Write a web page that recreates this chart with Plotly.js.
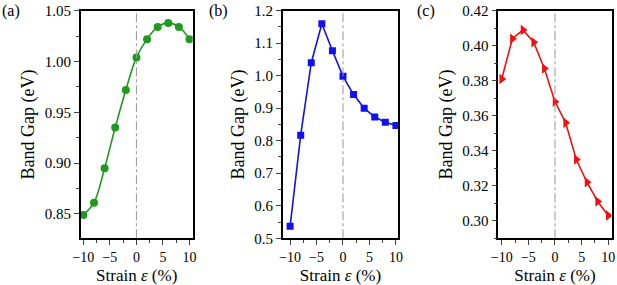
<!DOCTYPE html>
<html><head><meta charset="utf-8">
<script src="https://cdn.plot.ly/plotly-3.0.1.min.js"></script>
<style>html,body{margin:0;padding:0;background:#fff}#chart{width:617px;height:285px}</style>
</head><body><div id="chart"></div>
<script>
var strain = [-10, -8, -6, -4, -2, 0, 2, 4, 6, 8, 10];
var gapA = [0.849, 0.861, 0.895, 0.935, 0.972, 1.004, 1.022, 1.034, 1.038, 1.034, 1.022];
var gapB = [0.537, 0.817, 1.040, 1.160, 1.077, 0.998, 0.942, 0.900, 0.873, 0.857, 0.847];
var gapC = [0.381, 0.404, 0.409, 0.402, 0.387, 0.368, 0.356, 0.335, 0.322, 0.311, 0.303];
var panelLabels = ['(a)', '(b)', '(c)'];
var yTitle = 'Band Gap (eV)';
var xTitle = 'Strain <i>ε</i> (%)';

var FONT = 'Liberation Serif, serif';
var traces = [
  {x: strain, y: gapA, xaxis: 'x', yaxis: 'y', mode: 'lines+markers',
   line: {color: '#1e9a1e', width: 1.6, shape: 'spline'},
   marker: {symbol: 'circle', size: 8, color: '#1e9a1e'}},
  {x: strain, y: gapB, xaxis: 'x2', yaxis: 'y2', mode: 'lines+markers',
   line: {color: '#1010f0', width: 1.6},
   marker: {symbol: 'square', size: 7, color: '#1010f0'}},
  {x: strain, y: gapC, xaxis: 'x3', yaxis: 'y3', mode: 'lines+markers',
   line: {color: '#f01010', width: 1.6},
   marker: {symbol: 'triangle-right', size: 9, color: '#f01010'}}
];

function xax(dom, rng) {
  return {domain: dom, range: rng, tickmode: 'array', tickvals: [-10, -5, 0, 5, 10],
    ticks: 'outside', ticklen: 5, tickwidth: 1.3, showline: true, linewidth: 1.5, linecolor: '#000',
    mirror: true, showgrid: false, zeroline: false,
    minor: {dtick: 2.5, tick0: 0, ticks: 'outside', ticklen: 3, tickwidth: 1, showgrid: false},
    tickfont: {family: FONT, size: 14, color: '#000'},
    title: {text: xTitle, font: {family: FONT, size: 17, color: '#000'}, standoff: 6}};
}
function yax(anchor, rng, vals, minorD, fmt) {
  return {domain: [0.164, 0.9625], range: rng, anchor: anchor, tickmode: 'array', tickvals: vals,
    tickformat: fmt,
    ticks: 'outside', ticklen: 5, tickwidth: 1.3, showline: true, linewidth: 1.5, linecolor: '#000',
    mirror: true, showgrid: false, zeroline: false,
    minor: {dtick: minorD, tick0: 0, ticks: 'outside', ticklen: 3, tickwidth: 1, showgrid: false},
    tickfont: {family: FONT, size: 15, color: '#000'},
    title: {text: yTitle, font: {family: FONT, size: 18, color: '#000'}, standoff: 5}};
}

var layout = {
  width: 617, height: 285, margin: {l: 0, r: 0, t: 0, b: 0},
  font: {family: FONT, color: '#000', size: 15},
  paper_bgcolor: '#fff', plot_bgcolor: '#fff', showlegend: false,
  xaxis: Object.assign(xax([0.1308, 0.3123], [-10.5, 10.6]), {anchor: 'y'}),
  yaxis: yax('x', [0.826, 1.05], [0.85, 0.90, 0.95, 1.00, 1.05], 0.025, '.2f'),
  xaxis2: Object.assign(xax([0.4582, 0.6455], [-11.4, 10.45]), {anchor: 'y2'}),
  yaxis2: yax('x2', [0.5, 1.2], [0.5, 0.6, 0.7, 0.8, 0.9, 1.0, 1.1, 1.2], 0.05, '.1f'),
  xaxis3: Object.assign(xax([0.8076, 0.9914], [-10.64, 10.64]), {anchor: 'y3'}),
  yaxis3: yax('x3', [0.290, 0.42], [0.30, 0.32, 0.34, 0.36, 0.38, 0.40, 0.42], 0.01, '.2f'),
  shapes: [
    {type: 'line', xref: 'x', yref: 'y domain', x0: 0, x1: 0, y0: 0, y1: 1, line: {color: '#999', width: 1, dash: 'dashdot'}},
    {type: 'line', xref: 'x2', yref: 'y2 domain', x0: 0, x1: 0, y0: 0, y1: 1, line: {color: '#999', width: 1, dash: 'dashdot'}},
    {type: 'line', xref: 'x3', yref: 'y3 domain', x0: 0, x1: 0, y0: 0, y1: 1, line: {color: '#999', width: 1, dash: 'dashdot'}}
  ],
  annotations: [
    {text: panelLabels[0], xref: 'paper', yref: 'paper', x: 0.0, y: 1.0, xanchor: 'left', yanchor: 'top', showarrow: false, font: {family: FONT, size: 16, color: '#000'}},
    {text: panelLabels[1], xref: 'paper', yref: 'paper', x: 0.3355, y: 1.0, xanchor: 'left', yanchor: 'top', showarrow: false, font: {family: FONT, size: 16, color: '#000'}},
    {text: panelLabels[2], xref: 'paper', yref: 'paper', x: 0.6725, y: 1.0, xanchor: 'left', yanchor: 'top', showarrow: false, font: {family: FONT, size: 16, color: '#000'}}
  ]
};
Plotly.newPlot('chart', traces, layout, {displayModeBar: false});
</script></body></html>
